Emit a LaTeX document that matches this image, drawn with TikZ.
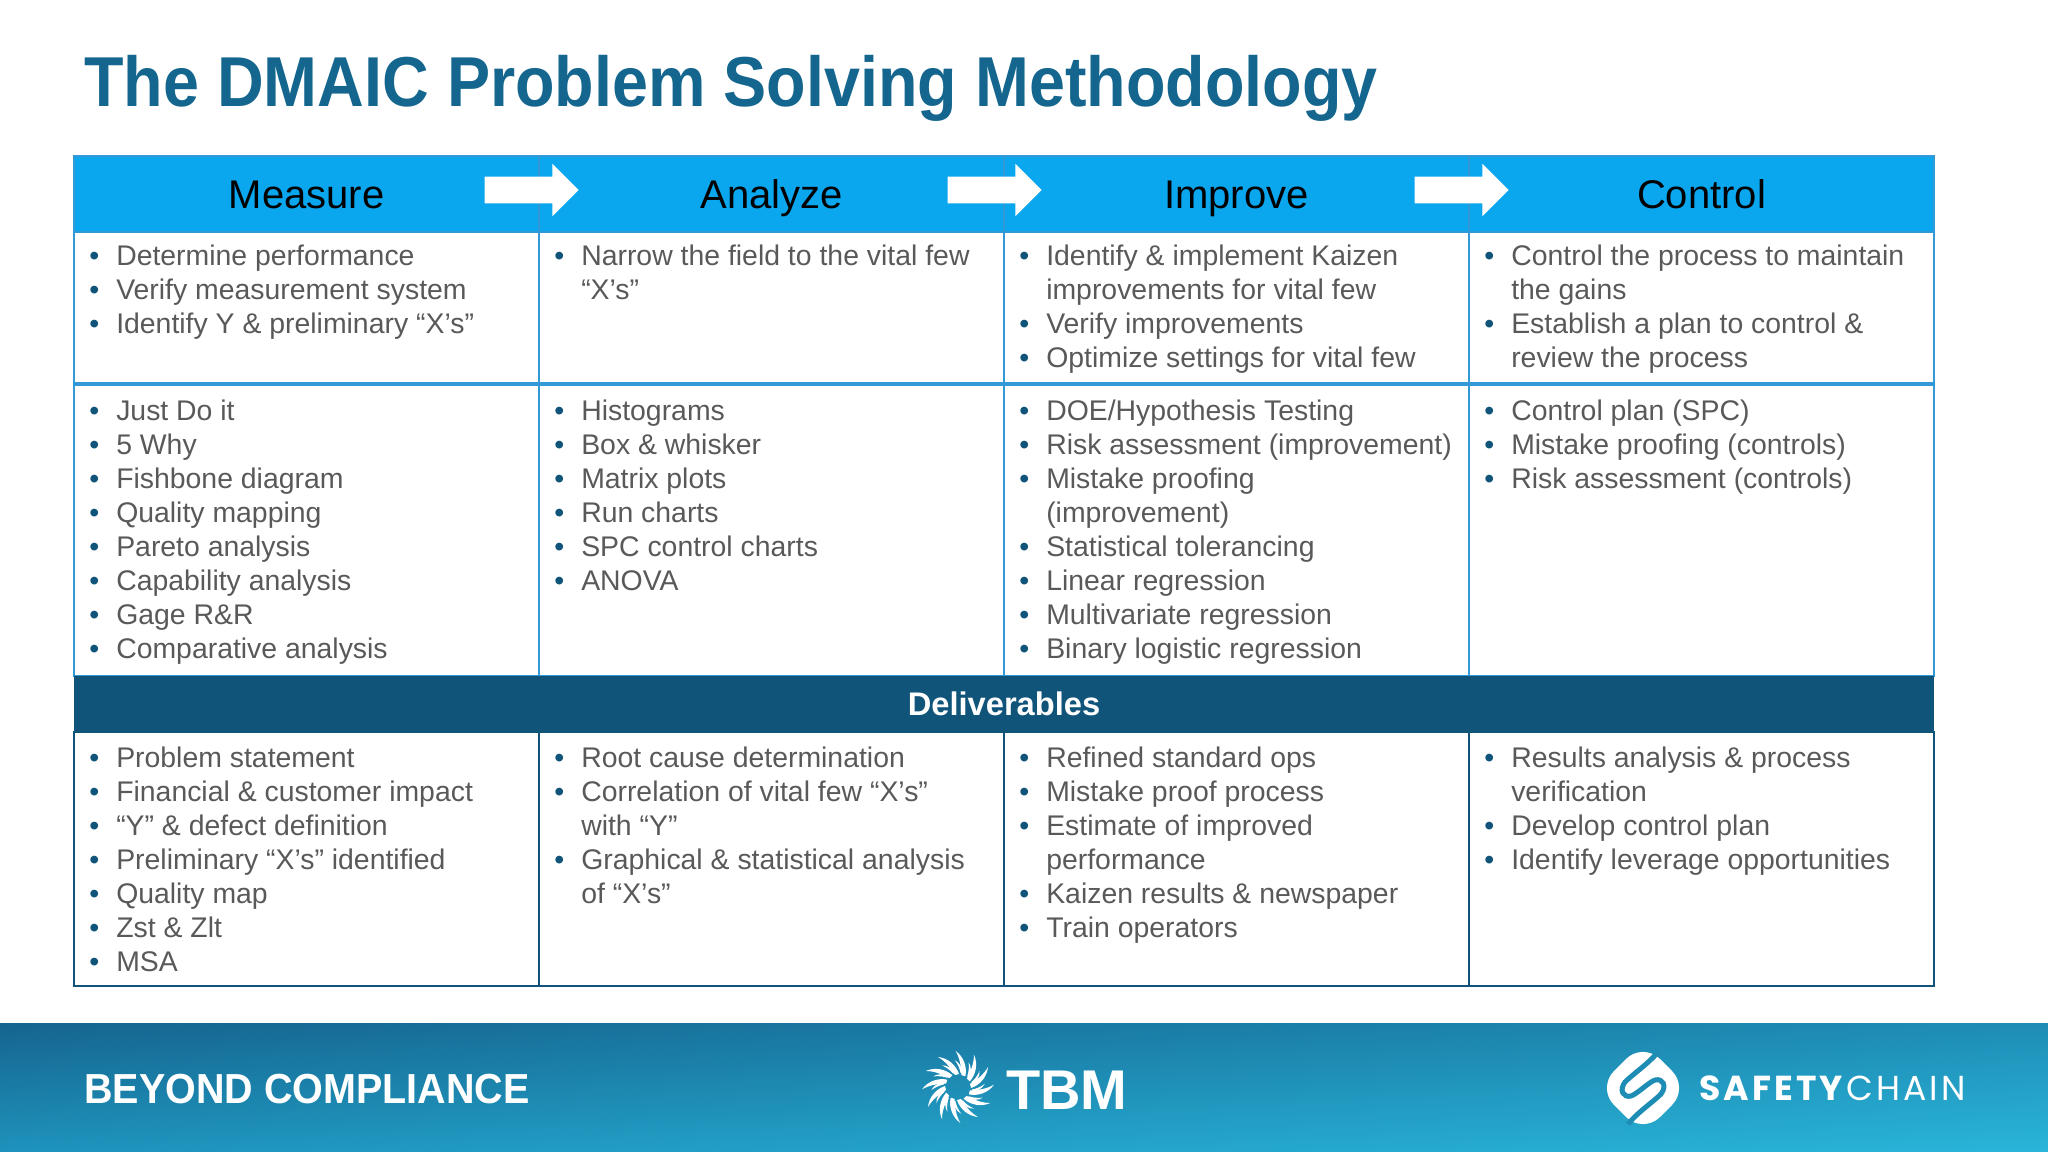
\documentclass[tikz,border=0pt]{standalone}
\usepackage{fontspec}
\setmainfont{Liberation Sans}
\newfontfamily\logofont[LetterSpace=9]{Poppins}
\newfontfamily\titlefont[FakeStretch=0.915]{Liberation Sans}
\newfontfamily\footfont[FakeStretch=0.94]{Liberation Sans}
\usetikzlibrary{shapes.arrows, shadings}
\definecolor{titleblue}{HTML}{14668F}
\definecolor{headblue}{HTML}{0AA6EE}
\definecolor{gridblue}{HTML}{3399D6}
\definecolor{deepteal}{HTML}{10547A}
\definecolor{bodygray}{HTML}{595959}
\definecolor{footleft}{HTML}{15658F}
\definecolor{footlow}{HTML}{1E93BC}
\definecolor{footup}{HTML}{1E8DB6}
\definecolor{footright}{HTML}{2AB5D9}
\newlength{\bulw}
\setlength{\bulw}{20.25pt}
\newcommand{\itm}[1]{\makebox[\bulw][l]{\textcolor{deepteal}{\textbullet}}\strut #1}
\newcommand{\cont}[1]{\hspace*{\bulw}\strut #1}
\tikzstyle{headcell} =[rectangle, minimum width=348.75pt, minimum height=57pt, draw=gridblue, line width=1.5pt, fill=headblue, inner sep=0pt, text=black, text height=21.5pt, text depth=0pt, font=\fontsize{30}{36}\selectfont]
\tikzstyle{topcell} =[rectangle, minimum width=348.75pt, minimum height=113.25pt, draw=gridblue, line width=1.5pt]
\tikzstyle{midcell} =[rectangle, minimum width=348.75pt, minimum height=219.75pt, draw=gridblue, line width=1.5pt]
\tikzstyle{lowcell} =[rectangle, minimum width=348.75pt, minimum height=190.5pt, draw=deepteal, line width=1.5pt]
\tikzstyle{itemlist} =[anchor=north west, inner sep=0pt, align=left, text=bodygray, xshift=12pt, font=\fontsize{21.3}{25.5}\selectfont]
\tikzstyle{steparrow} =[single arrow, fill=white, inner xsep=0pt, inner ysep=9.75pt, minimum height=70.5pt, minimum width=39pt, single arrow head extend=9.75pt, single arrow head indent=0pt]
\tikzstyle{blade} =[fill=white, draw=none]
\begin{document}
\begin{tikzpicture}[x=0.75pt, y=-0.75pt, node distance=348.75pt]
\useasboundingbox (0,0) rectangle (2048,1152);
\node (title) [anchor=base west, inner sep=0pt, text=titleblue, font=\titlefont\fontsize{53}{60}\selectfont\bfseries] at (84,107) {The DMAIC Problem Solving Methodology};
% header row
\node (measure) [headcell] at (306.5,194) {Measure};
\node (analyze) [headcell, right of=measure] {Analyze};
\node (improve) [headcell, right of=analyze] {Improve};
\node (control) [headcell, right of=improve] {Control};
% first row
\node (m1) [topcell] at (306.5,307.5) {};
\node (a1) [topcell, right of=m1] {};
\node (i1) [topcell, right of=a1] {};
\node (c1) [topcell, right of=i1] {};
% second row
\node (m2) [midcell] at (306.5,529.5) {};
\node (a2) [midcell, right of=m2] {};
\node (i2) [midcell, right of=a2] {};
\node (c2) [midcell, right of=i2] {};
% third row
\node (m3) [lowcell] at (306.5,859) {};
\node (a3) [lowcell, right of=m3] {};
\node (i3) [lowcell, right of=a3] {};
\node (c3) [lowcell, right of=i3] {};
\node (deliv) [rectangle, minimum width=1395pt, minimum height=42pt, fill=deepteal, inner sep=0pt, text=white, font=\fontsize{24.5}{30}\selectfont\bfseries] at (1004,704) {Deliverables};
\draw [gridblue, line width=3pt] (m1.south west)--(c1.south east);
\node (arr1) [steparrow] at (525,190) {};
\node (arr2) [steparrow] at (988,190) {};
\node (arr3) [steparrow] at (1455,190) {};
% cell texts
\node (tm1) [itemlist, yshift=-8pt] at (m1.north west) {\itm{Determine performance}\\\itm{Verify measurement system}\\\itm{Identify Y \& preliminary “X’s”}};
\node (ta1) [itemlist, yshift=-8pt] at (a1.north west) {\itm{Narrow the field to the vital few}\\\cont{“X’s”}};
\node (ti1) [itemlist, yshift=-8pt] at (i1.north west) {\itm{Identify \& implement Kaizen}\\\cont{improvements for vital few}\\\itm{Verify improvements}\\\itm{Optimize settings for vital few}};
\node (tc1) [itemlist, yshift=-8pt] at (c1.north west) {\itm{Control the process to maintain}\\\cont{the gains}\\\itm{Establish a plan to control \&}\\\cont{review the process}};
\node (tm2) [itemlist, yshift=-10.5pt] at (m2.north west) {\itm{Just Do it}\\\itm{5 Why}\\\itm{Fishbone diagram}\\\itm{Quality mapping}\\\itm{Pareto analysis}\\\itm{Capability analysis}\\\itm{Gage R\&R}\\\itm{Comparative analysis}};
\node (ta2) [itemlist, yshift=-10.5pt] at (a2.north west) {\itm{Histograms}\\\itm{Box \& whisker}\\\itm{Matrix plots}\\\itm{Run charts}\\\itm{SPC control charts}\\\itm{ANOVA}};
\node (ti2) [itemlist, yshift=-10.5pt] at (i2.north west) {\itm{DOE/Hypothesis Testing}\\\itm{Risk assessment (improvement)}\\\itm{Mistake proofing}\\\cont{(improvement)}\\\itm{Statistical tolerancing}\\\itm{Linear regression}\\\itm{Multivariate regression}\\\itm{Binary logistic regression}};
\node (tc2) [itemlist, yshift=-10.5pt] at (c2.north west) {\itm{Control plan (SPC)}\\\itm{Mistake proofing (controls)}\\\itm{Risk assessment (controls)}};
\node (tm3) [itemlist, yshift=-9pt] at (m3.north west) {\itm{Problem statement}\\\itm{Financial \& customer impact}\\\itm{“Y” \& defect definition}\\\itm{Preliminary “X’s” identified}\\\itm{Quality map}\\\itm{Zst \& Zlt}\\\itm{MSA}};
\node (ta3) [itemlist, yshift=-9pt] at (a3.north west) {\itm{Root cause determination}\\\itm{Correlation of vital few “X’s”}\\\cont{with “Y”}\\\itm{Graphical \& statistical analysis}\\\cont{of “X’s”}};
\node (ti3) [itemlist, yshift=-9pt] at (i3.north west) {\itm{Refined standard ops}\\\itm{Mistake proof process}\\\itm{Estimate of improved}\\\cont{performance}\\\itm{Kaizen results \& newspaper}\\\itm{Train operators}};
\node (tc3) [itemlist, yshift=-9pt] at (c3.north west) {\itm{Results analysis \& process}\\\cont{verification}\\\itm{Develop control plan}\\\itm{Identify leverage opportunities}};
% footer band
\shade [lower left=footlow, upper left=footleft, upper right=footup, lower right=footright] (0,1023) rectangle (2048,1152);
\node (beyond) [anchor=base west, inner sep=0pt, text=white, font=\footfont\fontsize{31.5}{36}\selectfont\bfseries] at (84,1103) {BEYOND COMPLIANCE};
\coordinate (star) at (958,1087);
\foreach \ang in {0,30,...,330} {
\fill [blade, shift={(star)}, rotate=\ang] (12,-3) .. controls (20,-8) and (26,-13) .. (30,-20) .. controls (29,-10) and (22,-2) .. (13,1) -- cycle;
\fill [blade, shift={(star)}, rotate=\ang+15] (14,-1) .. controls (18,-3) and (22,-6) .. (25,-10) .. controls (24,-5) and (20,-1) .. (15,1) -- cycle;
}
\node (tbm) [anchor=base west, inner sep=0pt, text=white, font=\fontsize{42}{48}\selectfont\bfseries] at (1006,1109) {TBM};
\coordinate (link) at (1643,1088);
\fill [white, rounded corners=18pt, shift={(link)}] (0,-46)--(46,0)--(0,46)--(-46,0)--cycle;
\draw [footup, line width=3.75pt, shift={(link)}] (15,-36) .. controls (5,-24) and (-10,-14) .. (-18,-6) .. controls (-24,2) and (-20,10) .. (-12,8) .. controls (-6,6) and (6,-6) .. (12,-8) .. controls (20,-10) and (24,-2) .. (18,6) .. controls (10,14) and (-5,24) .. (-15,36);
\node (chain) [anchor=base west, inner sep=0pt, text=white, font=\logofont\fontsize{26}{30}\selectfont] at (1699,1100) {\textbf{SAFETY}CHAIN};
\end{tikzpicture}
\end{document}
